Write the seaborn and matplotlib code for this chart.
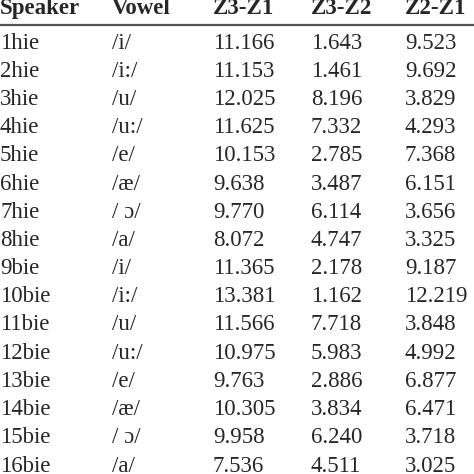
import matplotlib.pyplot as plt
import seaborn as sns

# ===============================
# Table data
# ===============================
HEADERS = ["Speaker", "Vowel", "Z3-Z1", "Z3-Z2", "Z2-Z1"]
SPEAKERS = ["1hie", "2hie", "3hie", "4hie", "5hie", "6hie", "7hie", "8hie",
            "9bie", "10bie", "11bie", "12bie", "13bie", "14bie", "15bie", "16bie"]
VOWELS = ["/i/", "/i:/", "/u/", "/u:/", "/e/", "/æ/", "/ ɔ/", "/a/",
          "/i/", "/i:/", "/u/", "/u:/", "/e/", "/æ/", "/ ɔ/", "/a/"]
Z3_Z1 = ["11.166", "11.153", "12.025", "11.625", "10.153", "9.638", "9.770", "8.072",
         "11.365", "13.381", "11.566", "10.975", "9.763", "10.305", "9.958", "7.536"]
Z3_Z2 = ["1.643", "1.461", "8.196", "7.332", "2.785", "3.487", "6.114", "4.747",
         "2.178", "1.162", "7.718", "5.983", "2.886", "3.834", "6.240", "4.511"]
Z2_Z1 = ["9.523", "9.692", "3.829", "4.293", "7.368", "6.151", "3.656", "3.325",
         "9.187", "12.219", "3.848", "4.992", "6.877", "6.471", "3.718", "3.025"]

COL_X = [0, 112, 213, 311, 405]
ROW0_Y = 43
ROW_STEP = 28.2

sns.set_style("white")
plt.rcParams["font.family"] = ["Liberation Serif", "DejaVu Serif"]

fig = plt.figure(figsize=(4.74, 4.74), dpi=100)
ax = fig.add_axes([0, 0, 1, 1])
ax.set_xlim(0, 474)
ax.set_ylim(474, 0)
ax.axis("off")

for x, h in zip(COL_X, HEADERS):
    ax.text(x, 8, h, fontsize=16.5, fontweight="bold", va="center", ha="left")
ax.axhline(25, color="#555555", linewidth=1.6)

columns = [SPEAKERS, VOWELS, Z3_Z1, Z3_Z2, Z2_Z1]
for i in range(len(SPEAKERS)):
    y = ROW0_Y + i * ROW_STEP
    for x, col in zip(COL_X, columns):
        ax.text(x, y, col[i], fontsize=16.5, va="center", ha="left")

fig.savefig("out.png", dpi=100)
